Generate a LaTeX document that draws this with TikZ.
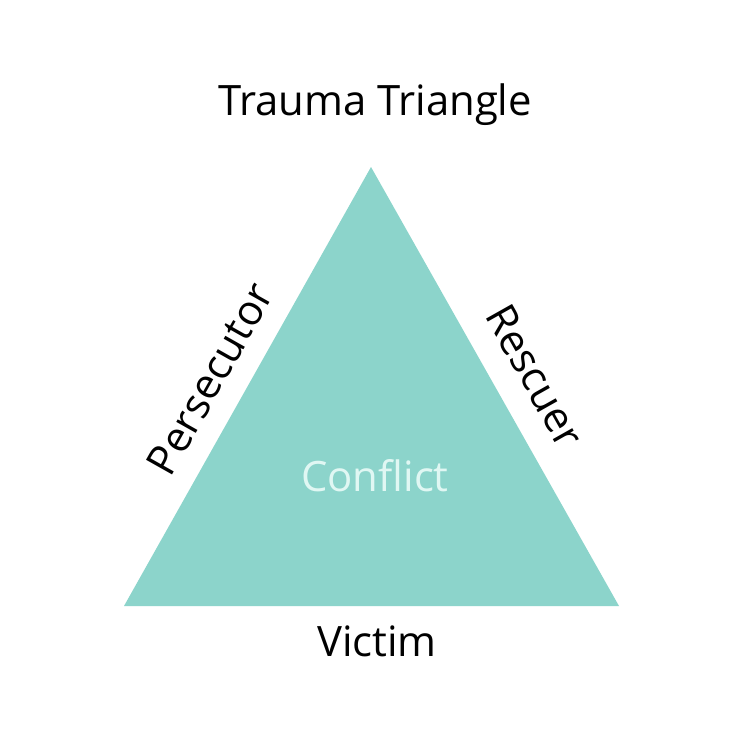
\documentclass[tikz,border=0pt]{standalone}
\usepackage{fontspec}
\setmainfont{Open Sans}
\definecolor{trifill}{HTML}{8CD4CB}
\definecolor{conflictcol}{HTML}{E0F7F3}
\begin{document}
\begin{tikzpicture}[x=1bp,y=-1bp,
  lbl/.style={font=\fontsize{42}{48}\selectfont, text=black, inner sep=0pt}]
\useasboundingbox (0,0) rectangle (750,750);
\fill[white] (0,0) rectangle (750,750);
\coordinate (top) at (371,167);
\coordinate (bl) at (124,606);
\coordinate (br) at (619,606);
\fill[trifill] (top) -- (bl) -- (br) -- cycle;
\node[lbl] (title) at (375,105) {Trauma Triangle};
\node[lbl, rotate=60.6] (pers) at (210,379) {Persecutor};
\node[lbl, rotate=-60.6] (resc) at (535,376) {Rescuer};
\node[lbl] (vict) at (377,641) {Victim};
\node[lbl, text=conflictcol] (conf) at (375,476) {Conflict};
\end{tikzpicture}
\end{document}
